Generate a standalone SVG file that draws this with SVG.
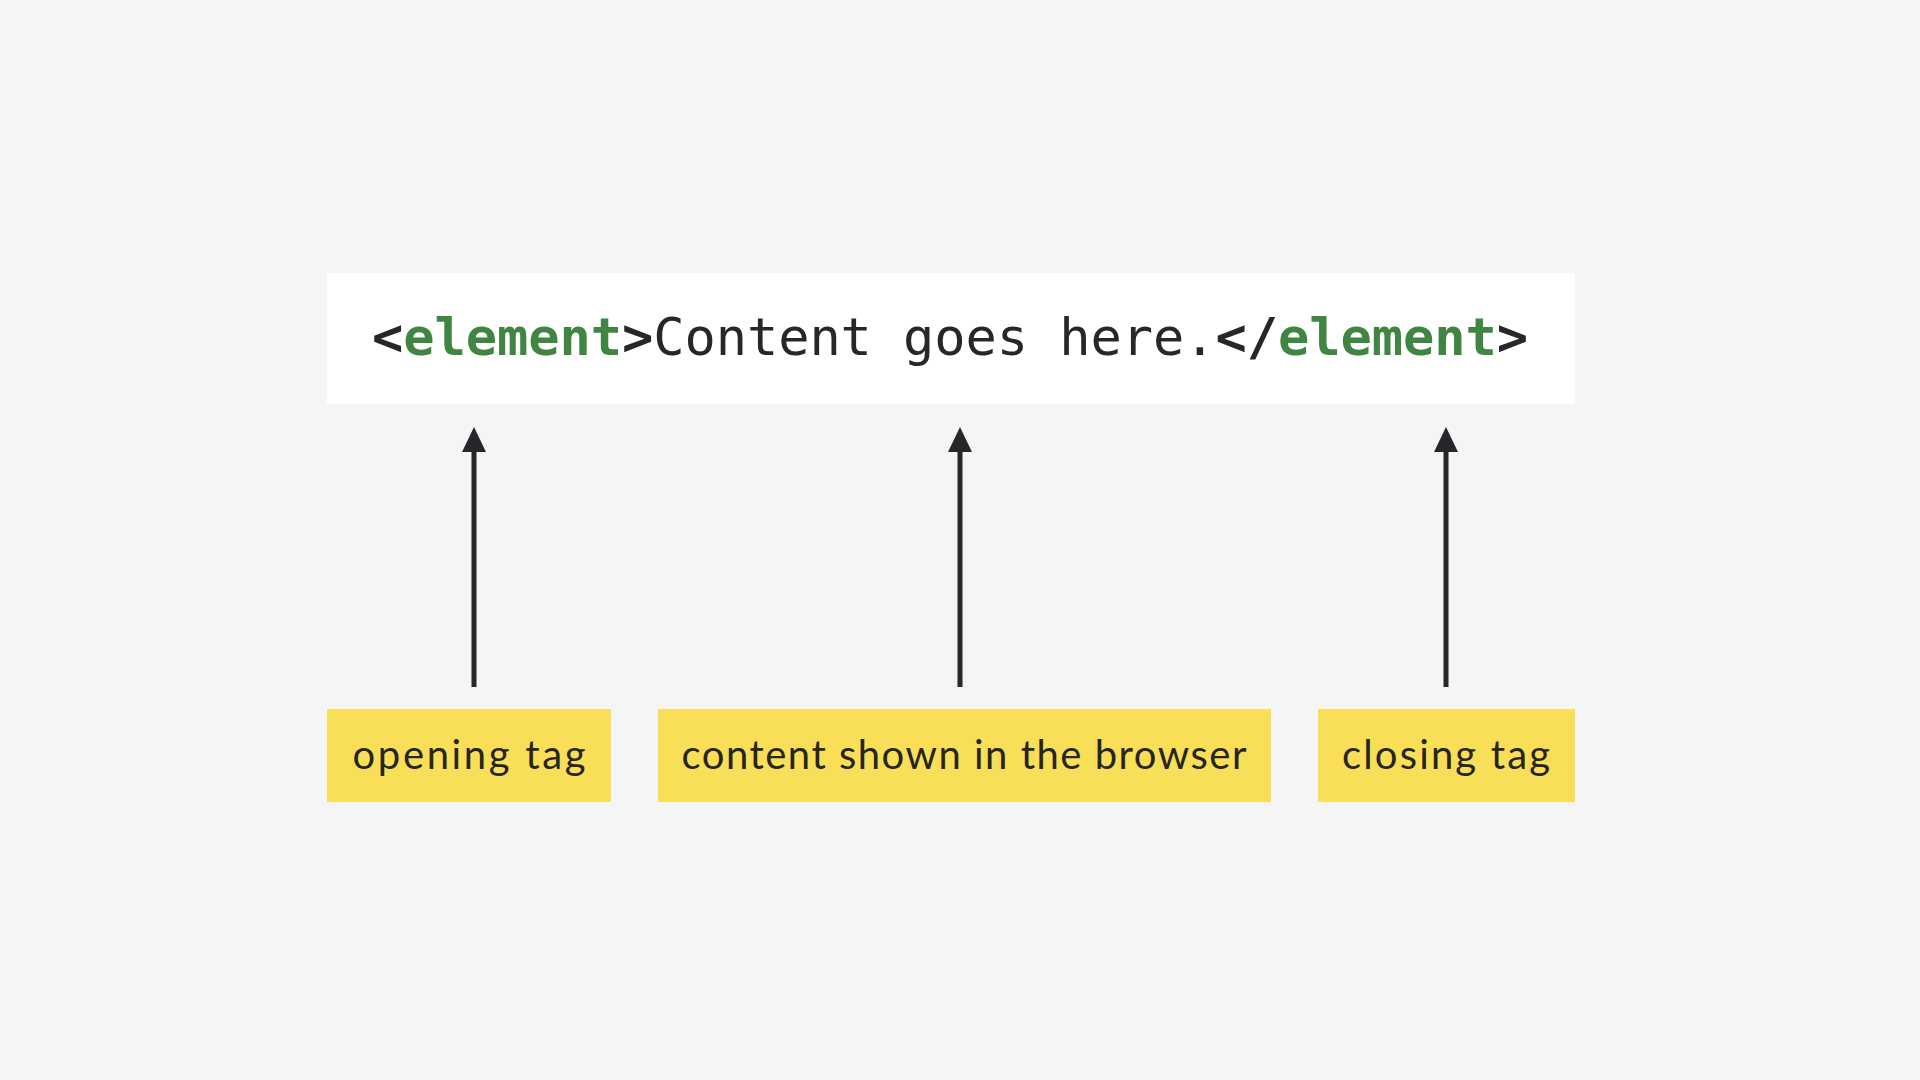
<svg xmlns="http://www.w3.org/2000/svg" width="1920" height="1080" viewBox="0 0 1920 1080">
<style>
.code{font-family:"DejaVu Sans Mono","Liberation Mono",monospace;font-size:52px;fill:#26272b}
.b{font-weight:bold}
.g{fill:#408541;font-weight:bold}
.lbl{fill:#f9df57}
.lt{font-family:Lato,"Noto Sans",sans-serif;font-size:40px;fill:#26251f;text-anchor:middle}
.arr{stroke:#26272b;stroke-width:5;fill:none}
</style>
<rect width="1920" height="1080" fill="#f5f5f5"/>
<g id="code">
<rect x="327" y="273" width="1248" height="131" fill="#ffffff"/>
<text class="code" x="372" y="355" textLength="1156" lengthAdjust="spacing"><tspan class="b">&lt;</tspan><tspan class="g">element</tspan><tspan class="b">&gt;</tspan>Content goes here.<tspan class="b">&lt;/</tspan><tspan class="g">element</tspan><tspan class="b">&gt;</tspan></text>
</g>
<g id="connectors">
<line class="arr" x1="474" y1="687" x2="474" y2="449"/>
<path d="M474 427 L486 452 L462 452 Z" fill="#26272b"/>
<line class="arr" x1="960" y1="687" x2="960" y2="449"/>
<path d="M960 427 L972 452 L948 452 Z" fill="#26272b"/>
<line class="arr" x1="1446" y1="687" x2="1446" y2="449"/>
<path d="M1446 427 L1458 452 L1434 452 Z" fill="#26272b"/>
</g>
<g id="opening-tag">
<rect class="lbl" x="327" y="709" width="284" height="93"/>
<text class="lt" x="469" y="769" textLength="233" lengthAdjust="spacing">opening tag</text>
</g>
<g id="content-label">
<rect class="lbl" x="658" y="709" width="613" height="93"/>
<text class="lt" x="964" y="769" textLength="565" lengthAdjust="spacing">content shown in the browser</text>
</g>
<g id="closing-tag">
<rect class="lbl" x="1318" y="709" width="257" height="93"/>
<text class="lt" x="1446" y="769" textLength="208" lengthAdjust="spacing">closing tag</text>
</g>
</svg>
